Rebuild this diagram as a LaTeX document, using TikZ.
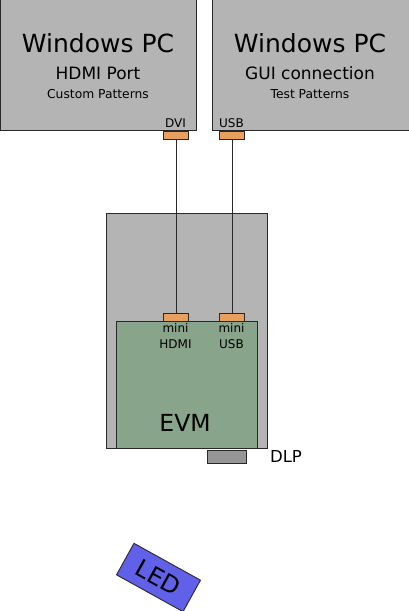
\documentclass[tikz,border=0pt]{standalone}
\usepackage{fontspec}
\setmainfont{DejaVu Sans}
\usepackage{xcolor}
\usepackage{tikz}

\definecolor{pcgray}{RGB}{180,180,180}
\definecolor{evmgreen}{RGB}{136,164,138}
\definecolor{plugorange}{RGB}{232,160,94}
\definecolor{dlpgray}{RGB}{150,150,150}
\definecolor{ledblue}{RGB}{96,96,232}
\definecolor{edge}{RGB}{40,40,40}

\begin{document}
\begin{tikzpicture}[
  x=1pt, y=-1pt,
  pcbox/.style={rectangle, draw=edge, line width=1.4pt, fill=pcgray, anchor=north west, inner sep=0pt},
  evmbox/.style={rectangle, draw=edge, line width=1.2pt, fill=evmgreen, anchor=north west, inner sep=0pt},
  plug/.style={rectangle, draw=edge, line width=0.9pt, fill=plugorange, anchor=north west, inner sep=0pt, minimum width=25pt, minimum height=8pt},
  cable/.style={draw=edge, line width=0.8pt},
  lbl/.style={anchor=base, inner sep=0pt}
]
\useasboundingbox (0,0) rectangle (408,611);

% Top: the two PCs
\node[pcbox, minimum width=196pt, minimum height=131pt] (pcA) at (0,-1) {};
\node[pcbox, minimum width=197pt, minimum height=131pt] (pcB) at (212,-1) {};

\node[lbl, font=\fontsize{25}{30}\selectfont] (pcAtitle) at (98,52) {Windows PC};
\node[lbl, font=\fontsize{17}{20}\selectfont] (pcAsub) at (98,79) {HDMI Port};
\node[lbl, font=\fontsize{12.3}{14}\selectfont] (pcAnote) at (98,98) {Custom Patterns};

\node[lbl, font=\fontsize{25}{30}\selectfont] (pcBtitle) at (310,52) {Windows PC};
\node[lbl, font=\fontsize{17}{20}\selectfont] (pcBsub) at (310,79) {GUI connection};
\node[lbl, font=\fontsize{12.3}{14}\selectfont] (pcBnote) at (310,98) {Test Patterns};

% PC side plugs
\node[plug] (dvi) at (163,131) {};
\node[plug] (usb) at (219,131) {};
\node[lbl, font=\fontsize{12}{14}\selectfont] (dvilbl) at (175.5,127) {DVI};
\node[lbl, font=\fontsize{12}{14}\selectfont] (usblbl) at (231.5,127) {USB};

% Housing and EVM board
\node[pcbox, line width=1.2pt, minimum width=161pt, minimum height=235pt] (housing) at (106,213) {};
\node[evmbox, minimum width=141pt, minimum height=127pt] (evm) at (116,321) {};
\node[lbl, font=\fontsize{23.5}{28}\selectfont] (evmlbl) at (185,431) {EVM};

% Board side plugs
\node[plug] (minihdmi) at (163,313) {};
\node[plug] (miniusb) at (219,313) {};
\node[lbl, font=\fontsize{12}{14}\selectfont] at (175.5,332) {mini};
\node[lbl, font=\fontsize{12}{14}\selectfont] at (175.5,348) {HDMI};
\node[lbl, font=\fontsize{12}{14}\selectfont] at (231.5,332) {mini};
\node[lbl, font=\fontsize{12}{14}\selectfont] at (231.5,348) {USB};

% Cables
\draw[cable] (dvi.south) -- (minihdmi.north);
\draw[cable] (usb.south) -- (miniusb.north);

% DLP
\node[rectangle, draw=edge, line width=0.9pt, fill=dlpgray, anchor=north west, inner sep=0pt,
      minimum width=39pt, minimum height=13pt] (dlp) at (207,450) {};
\node[lbl, font=\fontsize{16.5}{20}\selectfont] (dlplbl) at (286,462) {DLP};

% LED
\node[rectangle, draw=edge, line width=0.9pt, fill=ledblue, inner sep=0pt,
      minimum width=76pt, minimum height=36pt, rotate=-29,
      font=\fontsize{24}{28}\selectfont] (led) at (158.5,577.5) {LED};

\end{tikzpicture}
\end{document}
